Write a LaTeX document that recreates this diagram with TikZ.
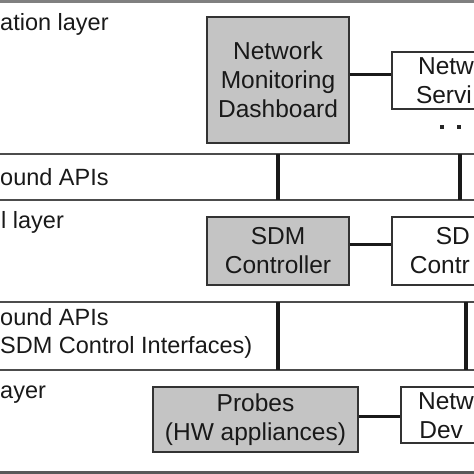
\documentclass[tikz,border=0pt]{standalone}
\usepackage{fontspec}
\setmainfont{Liberation Sans}
\usetikzlibrary{calc}
\usetikzlibrary{positioning}

\begin{document}
\begin{tikzpicture}[x=1pt, y=-1pt,
		every node/.style={font=\fontsize{23.5}{28.5}\selectfont, inner sep=0pt, text=black!90},
		greybox/.style={draw=black!80, line width=1.2pt, fill=black!23, align=center, minimum width=142pt,
			font=\fontsize{24.5}{29}\selectfont},
		whitebox/.style={draw=black!80, line width=1.2pt, fill=white, align=center, minimum width=142pt,
			font=\fontsize{24.5}{29}\selectfont},
		link/.style={line width=3pt, black!90},
		rule/.style={line width=1.3pt, black!70},
		lbl/.style={anchor=base west}]
	\useasboundingbox (0,0) rectangle (474,474);
	\clip (0,0) rectangle (474,474);

	% frame
	\draw[line width=3pt, black!50] (0,1) -- (474,1);
	\draw[line width=3pt, black!65] (0,472.5) -- (474,472.5);

	% application layer
	\node[lbl] (app) at (0,30) {ation layer};
	\node[greybox, minimum height=126pt] (nmd) at (278,80) {Network\\Monitoring\\Dashboard};
	\node[whitebox, minimum height=57pt] (nsv) at (463,80.5) {Netw\phantom{ork}\\Servi\phantom{ces}};
	\draw[link] ([yshift=6pt]nmd.east) -- ([yshift=6pt]nmd.east -| nsv.west);
	\draw[line width=4pt, dash pattern=on 4pt off 13pt, black!85] (440,127) -- (480,127);

	% northbound band
	\coordinate (nbt) at (0,154);
	\coordinate (nbb) at (0,200);
	\draw[rule] (nbt) -- (nbt -| 474,0);
	\draw[rule] (nbb) -- (nbb -| 474,0);
	\node[lbl] (nba) at (0,185) {ound APIs};
	\draw[link, line width=3.5pt] (nmd |- nbt) -- (nmd |- nbb);
	\draw[link, line width=3.5pt] ([xshift=-3pt]nsv.center |- nbt) -- ([xshift=-3pt]nsv.center |- nbb);

	% control layer
	\node[lbl] (ctl) at (1,228) {l layer};
	\node[greybox, minimum height=68pt] (sdm) at (278,251) {SDM\\Controller};
	\node[whitebox, minimum height=68pt] (sdc) at (463,251) {SD\phantom{M}\\Contr\phantom{oller}};
	\draw[link] ([yshift=7pt]sdm.east) -- ([yshift=7pt]sdm.east -| sdc.west);

	% southbound band
	\coordinate (sbt) at (0,302);
	\coordinate (sbb) at (0,370);
	\draw[rule] (sbt) -- (sbt -| 474,0);
	\draw[rule] (sbb) -- (sbb -| 474,0);
	\node[lbl] (sba) at (0,325) {ound APIs};
	\node[lbl] (sbi) at (0,353) {SDM Control Interfaces)};
	\draw[link, line width=3.5pt] (sdm |- sbt) -- (sdm |- sbb);
	\draw[link, line width=3.5pt] ([xshift=3pt]sdc.center |- sbt) -- ([xshift=3pt]sdc.center |- sbb);

	% infrastructure layer
	\node[lbl] (inf) at (0,398) {ayer};
	\node[greybox, minimum width=205pt, minimum height=65pt] (prb) at (255.5,419.5) {Probes\\(HW appliances)};
	\node[whitebox, minimum width=124pt, minimum height=56pt] (ndv) at (463,415) {Netw\phantom{ork}\\Dev\phantom{ices}};
	\draw[link] ([yshift=3.5pt]prb.east) -- ([yshift=3.5pt]prb.east -| ndv.west);
\end{tikzpicture}
\end{document}
